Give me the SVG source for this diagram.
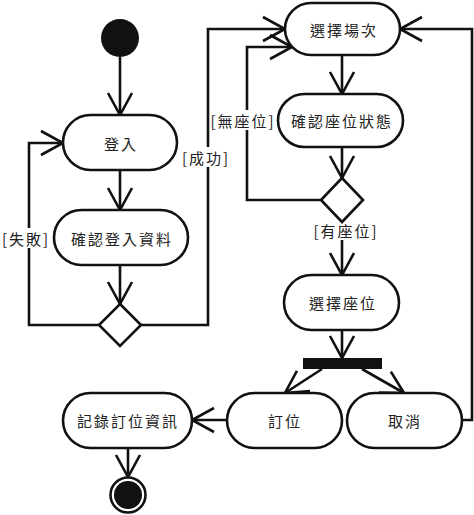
<svg xmlns="http://www.w3.org/2000/svg" width="474" height="515" viewBox="0 0 474 515">
<style>
.n{fill:#fff;stroke:#111;stroke-width:2.6}
.c{fill:none;stroke:#111;stroke-width:2.6}
.bg{fill:#fff}
.t{font-family:"Noto Sans CJK TC","Noto Sans CJK SC",sans-serif;font-size:15px;fill:#222;text-anchor:middle;dominant-baseline:central;letter-spacing:2px}
.g{font-family:"Noto Sans CJK TC","Noto Sans CJK SC",sans-serif;font-size:15px;fill:#222;text-anchor:middle;dominant-baseline:central;letter-spacing:2px}
</style>
<defs>
<marker id="a" markerUnits="userSpaceOnUse" markerWidth="30" markerHeight="30" viewBox="-25 -15 30 30" refX="0" refY="0" orient="auto">
<path d="M-22,-12 L0,0 L-22,12" fill="none" stroke="#111" stroke-width="2.6"/>
</marker>
</defs>
<g id="connectors">
<line class="c" x1="120" y1="57" x2="120" y2="115" marker-end="url(#a)"/>
<line class="c" x1="120" y1="170" x2="120" y2="210" marker-end="url(#a)"/>
<line class="c" x1="120" y1="265" x2="120" y2="304" marker-end="url(#a)"/>
<polyline class="c" points="99,325 29,325 29,143 63,143" marker-end="url(#a)"/>
<polyline class="c" points="141,325 208,325 208,29 285,29" marker-end="url(#a)"/>
<line class="c" x1="342" y1="55" x2="342" y2="94" marker-end="url(#a)"/>
<line class="c" x1="342" y1="147" x2="342" y2="178" marker-end="url(#a)"/>
<polyline class="c" points="321,200 247,200 247,47 292,47" marker-end="url(#a)"/>
<line class="c" x1="342" y1="222" x2="342" y2="275" marker-end="url(#a)"/>
<line class="c" x1="342" y1="330" x2="342" y2="358" marker-end="url(#a)"/>
<line class="c" x1="322" y1="369" x2="285" y2="393" marker-end="url(#a)"/>
<line class="c" x1="362" y1="369" x2="404" y2="393" marker-end="url(#a)"/>
<polyline class="c" points="462,420 472,420 472,29 400,29" marker-end="url(#a)"/>
<line class="c" x1="227" y1="420" x2="192" y2="420" marker-end="url(#a)"/>
<line class="c" x1="128" y1="448" x2="128" y2="477" marker-end="url(#a)"/>
<rect class="bg" x="2" y="228" width="48" height="20"/>
<text class="g" x="26" y="238">[失敗]</text>
<rect class="bg" x="180" y="147" width="50" height="20"/>
<text class="g" x="206" y="157">[成功]</text>
<rect class="bg" x="210" y="110" width="65" height="20"/>
<text class="g" x="243" y="120">[無座位]</text>
<rect class="bg" x="312" y="220" width="66" height="20"/>
<text class="g" x="346" y="230">[有座位]</text>
</g>
<g id="start"><circle cx="120" cy="38" r="19" fill="#111"/></g>
<g id="login"><rect class="n" x="63" y="115" width="114" height="55" rx="27.5"/><text class="t" x="121" y="143">登入</text></g>
<g id="checkLogin"><rect class="n" x="54" y="210" width="134" height="55" rx="27.5"/><text class="t" x="122" y="238">確認登入資料</text></g>
<g id="decision1"><polygon class="n" points="120,304 141,325 120,346 99,325"/></g>
<g id="selectSession"><rect class="n" x="285" y="3" width="115" height="52" rx="26"/><text class="t" x="344" y="29">選擇場次</text></g>
<g id="checkSeat"><rect class="n" x="278" y="94" width="125" height="53" rx="26.5"/><text class="t" x="342" y="120">確認座位狀態</text></g>
<g id="decision2"><polygon class="n" points="342,178 363,200 342,222 321,200"/></g>
<g id="selectSeat"><rect class="n" x="284" y="275" width="115" height="55" rx="27.5"/><text class="t" x="343" y="302">選擇座位</text></g>
<g id="fork"><rect x="303" y="358" width="79" height="11" fill="#111"/></g>
<g id="book"><rect class="n" x="227" y="393" width="115" height="55" rx="27.5"/><text class="t" x="285" y="420">訂位</text></g>
<g id="cancel"><rect class="n" x="347" y="393" width="115" height="55" rx="27.5"/><text class="t" x="405" y="420">取消</text></g>
<g id="record"><rect class="n" x="63" y="393" width="129" height="55" rx="27.5"/><text class="t" x="128" y="420">記錄訂位資訊</text></g>
<g id="end"><circle cx="128" cy="495" r="17.5" fill="#fff" stroke="#111" stroke-width="2.6"/><circle cx="128" cy="495" r="14" fill="#111"/></g>
</svg>
